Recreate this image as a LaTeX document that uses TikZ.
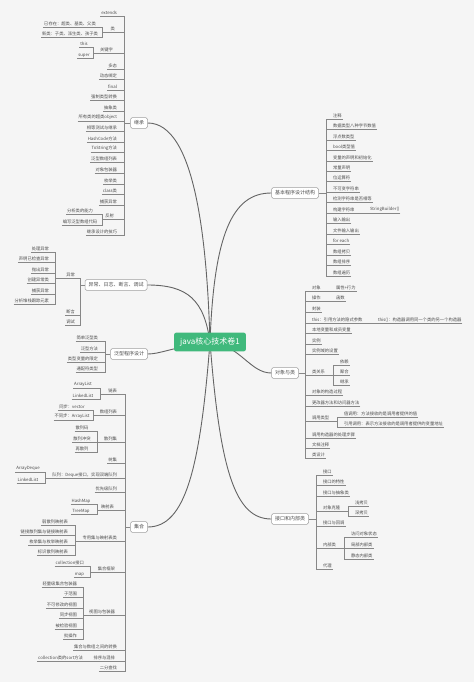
\documentclass[tikz,border=0pt]{standalone}
\usepackage{fontspec}
\setmainfont{Noto Sans CJK SC}
\definecolor{paper}{RGB}{245,245,245}
\definecolor{inkgray}{RGB}{77,77,77}
\definecolor{twiggray}{RGB}{135,135,135}
\definecolor{limbgray}{RGB}{100,100,100}
\definecolor{rimgray}{RGB}{160,160,160}
\definecolor{rootgreen}{RGB}{64,185,124}
\newcommand\leafsize{\fontsize{4.3}{5}\selectfont}
\newcommand\topicsize{\fontsize{5}{6}\selectfont}
\newcommand\rootsize{\fontsize{8}{9}\selectfont}

\tikzset{
  leaf/.style={font=\leafsize, text=inkgray, inner xsep=1pt, inner ysep=1pt, outer sep=0pt},
  twig/.style={draw=twiggray, line width=0.45pt},
  limb/.style={draw=limbgray, line width=0.9pt},
  topic/.style={draw=rimgray, line width=0.5pt, fill=white, rounded corners=1.5pt,
    font=\topicsize, text=inkgray, inner xsep=3.5pt, inner ysep=3pt},
  root/.style={fill=rootgreen, rounded corners=2pt, font=\rootsize, text=white,
    inner xsep=6pt, inner ysep=5pt},
}

% leaves left of a trunk: name, trunk, anchor, x, y/text list
\newcommand\twigsL[5]{%
  \foreach \y/\lbl [count=\i] in {#5}{
    \node[leaf,anchor=#3] (#1\i) at (#4,\y) {\lbl};
    \draw[twig] (#1\i.south west) -| (#2);
  }}
% leaves right of a trunk: name, trunk, x, y/text list
\newcommand\twigsR[4]{%
  \foreach \y/\lbl [count=\i] in {#4}{
    \node[leaf,anchor=south west] (#1\i) at (#3,\y) {\lbl};
    \draw[twig] (#1\i.south east) -| (#2);
  }}
% a leaf that has leaves of its own: name, trunk, x, y, text, x of its own trunk
\newcommand\forkL[6]{%
  \node[leaf,anchor=south east] (#1) at (#3,#4) {#5};
  \coordinate (#1-s) at (#6,#4);
  \draw[twig] (#1-s) -| (#2);}
\newcommand\forkR[6]{%
  \node[leaf,anchor=south west] (#1) at (#3,#4) {#5};
  \coordinate (#1-s) at (#6,#4);
  \draw[twig] (#1-s) -| (#2);}

\begin{document}
\begin{tikzpicture}[x=1pt,y=-1pt]
    \useasboundingbox (0,0) rectangle (474,682);
    \fill[paper] (0,0) rectangle (474,682);

    % main topics
    \node[topic] (jc) at (139,123) {继承};
    \node[topic] (jb) at (295,193) {基本程序设计结构};
    \node[topic] (yc) at (116,285) {异常、日志、断言、调试};
    \node[topic] (fx) at (129,354) {泛型程序设计};
    \node[topic] (dx) at (285,373) {对象与类};
    \node[topic] (jk) at (290,519) {接口和内部类};
    \node[topic] (jh) at (139,527) {集合};

    % curves out of the centre
    \coordinate (rc) at (210,342);
    \draw[limb] (rc) .. controls (207,240) and (195,123) .. (jc.east);
    \draw[limb] (rc) .. controls (214,235) and (232,193) .. (jb.west);
    \draw[limb] (rc) .. controls (204,300) and (188,285) .. (yc.east);
    \draw[limb] (rc) .. controls (170,348) and (160,354) .. (fx.east);
    \draw[limb] (rc) .. controls (240,345) and (250,373) .. (dx.west);
    \draw[limb] (rc) .. controls (220,470) and (235,519) .. (jk.west);
    \draw[limb] (rc) .. controls (200,470) and (185,527) .. (jh.east);
    \node[root] (root) at (rc) {java核心技术卷1};

    % 继承
    \coordinate (jc-t) at (124,123);
    \draw[twig] (jc.west) -- (jc-t);
    \twigsL{jc}{jc-t}{south east}{118}{16/extends,69/多态,79/动态绑定,90/final,100/强制类型转换,111/抽象类,121/所有类的超类object,131/相等测试与继承,142/HashCode方法,152/ToString方法,162/泛型数组列表,173/对象包装器,184/枚举类,194/class类,205/捕获异常,235/继承设计的技巧}
    \forkL{jcA}{jc-t}{116}{32}{类}{102}
    \twigsL{jcA}{jcA-s}{south}{70}{27/已存在：超类、基类、父类,37/新类：子类、派生类、孩子类}
    \forkL{jcB}{jc-t}{114}{53}{关键字}{93}
    \twigsL{jcB}{jcB-s}{south}{84}{47/this,58/super}
    \forkL{jcC}{jc-t}{115}{219}{反射}{102}
    \twigsL{jcC}{jcC-s}{south}{80}{214/分析类的能力,225/编写泛型数组代码}

    % 基本程序设计结构
    \coordinate (jb-t) at (326,193);
    \draw[twig] (jb.east) -- (jb-t);
    \twigsR{jb}{jb-t}{332}{119/注释,129/数据类型八种字节数值,140/浮点数类型,150/bool类型值,161/变量的声明和初始化,171/常量声明,181/位运算符,192/不可变字符串,202/检测字符串是否相等,223/输入输出,234/文件输入输出,244/for each,255/数组拷贝,265/数组排序,276/数组遍历}
    \forkR{jbA}{jb-t}{332}{213}{构建字符串}{366}
    \twigsR{jbA}{jbA-s}{369}{213/StringBuilder()}

    % 异常、日志、断言、调试
    \coordinate (yc-t) at (80,285);
    \draw[twig] (yc.west) -- (yc-t);
    \forkL{ycA}{yc-t}{76}{278}{异常}{55}
    \twigsL{ycA}{ycA-s}{south east}{50}{252/处理异常,262/声明已检查异常,273/抛出异常,283/创建异常类,294/捕获异常,304/分析堆栈跟踪元素}
    \twigsL{yc}{yc-t}{south east}{76}{315/断言,325/调试}

    % 泛型程序设计
    \coordinate (fx-t) at (105,354);
    \draw[twig] (fx.west) -- (fx-t);
    \twigsL{fx}{fx-t}{south east}{99}{341/简单泛型类,352/泛型方法,362/类型变量的限定,372/通配符类型}

    % 对象与类
    \coordinate (dx-t) at (305,373);
    \draw[twig] (dx.east) -- (dx-t);
    \twigsR{dx}{dx-t}{311}{312/封装,333/本地变量和成员变量,344/实例,354/实例域的设置,395/对象的构造过程,406/更改器方法和访问器方法,438/调用构造器的处理步骤,448/文档注释,458/类设计}
    \forkR{dxA}{dx-t}{311}{291}{对象}{332}
    \twigsR{dxA}{dxA-s}{335}{291/属性+行为}
    \forkR{dxB}{dx-t}{311}{301}{操作}{332}
    \twigsR{dxB}{dxB-s}{335}{301/函数}
    \forkR{dxC}{dx-t}{311}{323}{this：引用方法的隐式参数}{374}
    \twigsR{dxC}{dxC-s}{377}{323/this()：构造器调用同一个类的另一个构造器}
    \forkR{dxD}{dx-t}{311}{375}{类关系}{333}
    \twigsR{dxD}{dxD-s}{339}{365/依赖,375/聚合,385/继承}
    \forkR{dxE}{dx-t}{311}{421}{调用类型}{337}
    \twigsR{dxE}{dxE-s}{343}{417/值调用：方法接收的是调用者提供的值,427/引用调用：表示方法接收的是调用者提供的变量地址}

    % 接口和内部类
    \coordinate (jk-t) at (316,519);
    \draw[twig] (jk.east) -- (jk-t);
    \twigsR{jk}{jk-t}{322}{475/接口,485/接口的特性,496/接口与抽象类,526/接口与回调,569/代理}
    \forkR{jkA}{jk-t}{322}{511}{对象克隆}{348}
    \twigsR{jkA}{jkA-s}{354}{506/浅拷贝,516/深拷贝}
    \forkR{jkB}{jk-t}{322}{548}{内部类}{344}
    \twigsR{jkB}{jkB-s}{350}{537/访问对象状态,548/局部内部类,559/静态内部类}

    % 集合
    \coordinate (jh-t) at (125,527);
    \draw[twig] (jh.west) -- (jh-t);
    \twigsL{jh}{jh-t}{south east}{118}{463/树集,492/优先级队列,650/集合与数组之间的转换,671/二分查找}
    \forkL{jhA}{jh-t}{118}{394}{链表}{100}
    \twigsL{jhA}{jhA-s}{south}{83}{388/ArrayList,399/LinkedList}
    \forkL{jhB}{jh-t}{118}{415}{数组列表}{93}
    \twigsL{jhB}{jhB-s}{south}{72}{410/同步：vector,420/不同步：ArrayList}
    \forkL{jhC}{jh-t}{118}{442}{散列集}{97}
    \twigsL{jhC}{jhC-s}{south}{82}{431/散列码,442/散列冲突,452/再散列}
    \forkL{jhD}{jh-t}{118}{478}{队列：Deque接口，实现双端队列}{45}
    \twigsL{jhD}{jhD-s}{south}{28}{472/ArrayDeque,483/LinkedList}
    \forkL{jhE}{jh-t}{115}{510}{映射表}{97}
    \twigsL{jhE}{jhE-s}{south}{81}{504/HashMap,514/TreeMap}
    \forkL{jhF}{jh-t}{118}{541}{专用集与映射表类}{75}
    \twigsL{jhF}{jhF-s}{south east}{69}{525/弱散列映射表,535/链接散列集与链接映射表,545/枚举集与枚举映射表,555/标识散列映射表}
    \forkL{jhG}{jh-t}{116}{572}{集合框架}{90}
    \twigsL{jhG}{jhG-s}{south east}{85}{566/collection接口,577/map}
    \forkL{jhH}{jh-t}{116}{615}{视图与包装器}{83}
    \twigsL{jhH}{jhH-s}{south east}{78}{587/轻量级集合包装器,597/子范围,608/不可修改的视图,618/同步视图,629/被检验视图,639/批操作}
    \forkL{jhI}{jh-t}{116}{661}{排序与混排}{90}
    \twigsL{jhI}{jhI-s}{south east}{84}{661/collection类的sort方法}
\end{tikzpicture}
\end{document}
